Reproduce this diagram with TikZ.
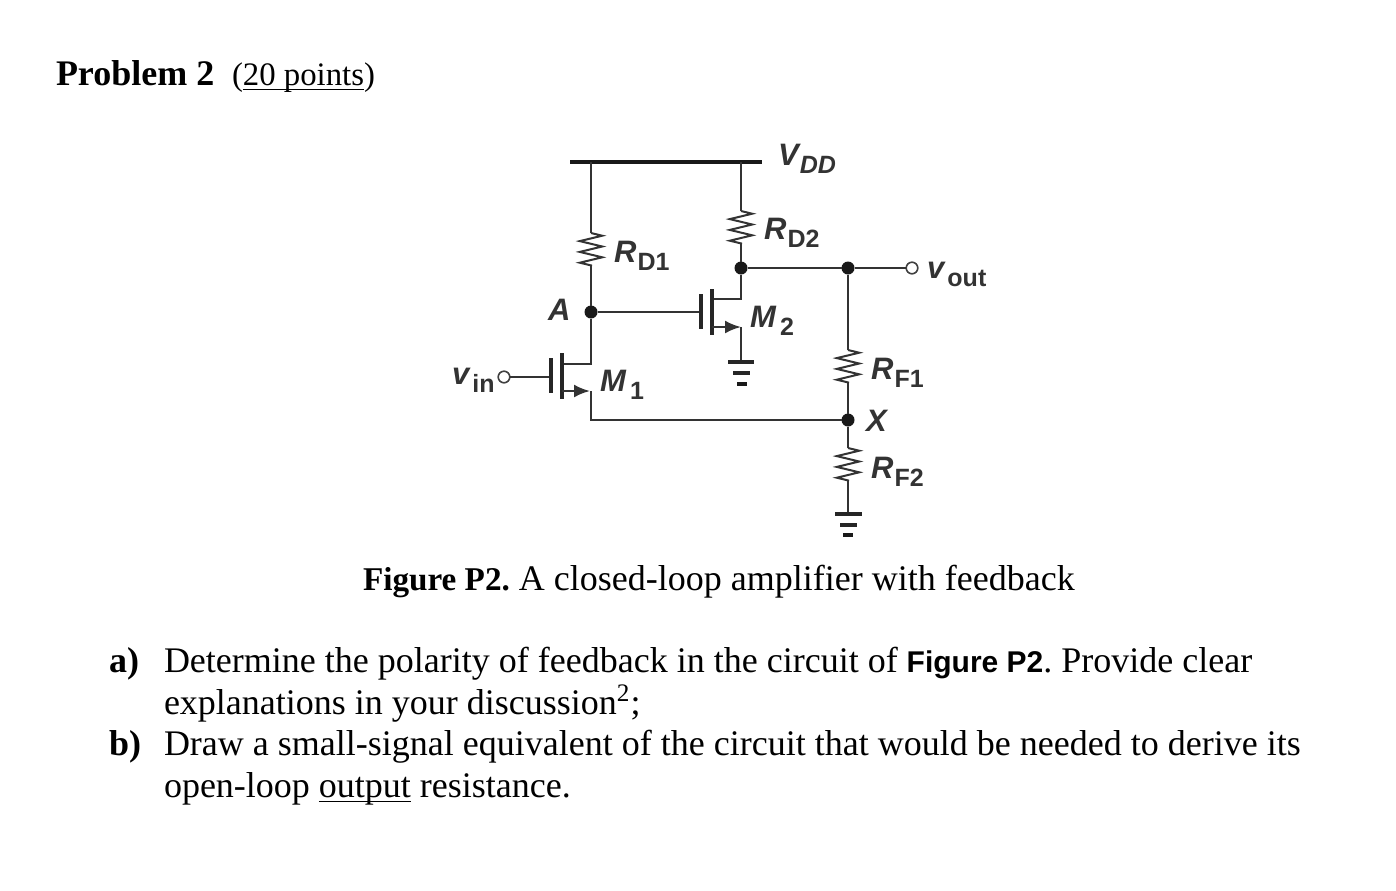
\documentclass[tikz,border=0pt]{standalone}
\usepackage{fontspec}
\setmainfont{Liberation Serif}
\setsansfont{Liberation Sans}
\usetikzlibrary{positioning, arrows.meta, decorations.pathmorphing}

\newcommand{\cirlab}[2]{{\fontsize{15.5}{15}\selectfont\itshape #1}\kern0.6pt\raisebox{-4pt}{\fontsize{12.5}{10}\selectfont #2}}
\newcommand{\lowline}[1]{\setbox0\hbox{#1}\rlap{\rule[-2.5pt]{\wd0}{0.75pt}}\box0\relax}

\begin{document}
\frenchspacing
\begin{tikzpicture}[
    x=0.5pt, y=-0.5pt,
    every node/.style={inner sep=0pt, outer sep=0pt},
    wire/.style={draw=black!80, line width=1.2pt},
    rail/.style={draw=black!90, line width=2.3pt},
    plate/.style={draw=black!85, line width=1.9pt},
    srcarrow/.style={wire, -{Latex[length=8pt, width=6.5pt]}},
    res/.style={draw=black!80, line width=1pt, decorate, decoration={zigzag, amplitude=5.6pt, segment length=5.4pt}},
    dot/.style={circle, fill=black!90, minimum size=6.5pt},
    port/.style={circle, draw=black!75, fill=white, line width=0.8pt, minimum size=5.8pt},
    cirtext/.style={font=\sffamily\bfseries, text=black!80, anchor=base west},
    heading/.style={anchor=base west, font=\fontsize{18}{21}\selectfont\bfseries},
    bodytext/.style={anchor=base west, align=left, font=\fontsize{18}{21}\selectfont}
]
\useasboundingbox (0,0) rectangle (1396,890);

% Heading
\node[heading] (title) at (56,85) {Problem 2};
\node[anchor=base west, font=\fontsize{16.4}{20}\selectfont] (points) at (232,85) {(\lowline{20 points})};

% Supply rail and junctions
\coordinate (railL) at (570,162);
\coordinate (railR) at (762,162);
\coordinate (rd1top) at (591,162);
\coordinate (rd2top) at (741,162);
\node[dot] (A) at (591,312) {};
\node[dot] (outD) at (741,268) {};
\node[dot] (outN) at (848,268) {};
\node[dot] (X) at (848,420) {};
\node[port] (vout) at (912,268) {};
\node[port] (vin) at (504,377) {};

% Resistor ends
\coordinate (rd1a) at (591,233);
\coordinate (rd1b) at (591,266);
\coordinate (rd2a) at (741,211);
\coordinate (rd2b) at (741,244);
\coordinate (rf1a) at (848,350);
\coordinate (rf1b) at (848,383);
\coordinate (rf2a) at (848,448);
\coordinate (rf2b) at (848,481);

% M1 points
\coordinate (m1gate) at (551,377);
\coordinate (m1dl) at (562,364);
\coordinate (m1dr) at (591,364);
\coordinate (m1sl) at (562,391);
\coordinate (m1sr) at (590,391);
\coordinate (m1low) at (591,420);
\coordinate (m1pa) at (551,358);
\coordinate (m1pb) at (551,393);
\coordinate (m1ca) at (562,353);
\coordinate (m1cb) at (562,399);

% M2 points
\coordinate (m2gate) at (701,312);
\coordinate (m2dl) at (712,299);
\coordinate (m2dr) at (741,299);
\coordinate (m2sl) at (712,327);
\coordinate (m2sr) at (741,327);
\coordinate (m2pa) at (701,294);
\coordinate (m2pb) at (701,329);
\coordinate (m2ca) at (712,289);
\coordinate (m2cb) at (712,335);

% Ground under M2
\coordinate (gnd2) at (741,362);
\coordinate (g2aL) at (728,362); \coordinate (g2aR) at (754,362);
\coordinate (g2bL) at (733,373); \coordinate (g2bR) at (750,373);
\coordinate (g2cL) at (737,384); \coordinate (g2cR) at (747,384);

% Ground under RF2
\coordinate (gnd3) at (848,514);
\coordinate (g3aL) at (835,514); \coordinate (g3aR) at (862,514);
\coordinate (g3bL) at (840,525); \coordinate (g3bR) at (857,525);
\coordinate (g3cL) at (843,535); \coordinate (g3cR) at (853,535);

% Wires
\draw[rail] (railL) -- (railR);
\draw[wire] (rd1top) -- (rd1a);
\draw[res] (rd1a) -- (rd1b);
\draw[wire] (rd1b) -- (A);
\draw[wire] (A) -- (m1dr) -- (m1dl);
\draw[wire] (rd2top) -- (rd2a);
\draw[res] (rd2a) -- (rd2b);
\draw[wire] (rd2b) -- (outD);
\draw[wire] (outD) -- (m2dr) -- (m2dl);
\draw[wire] (outD) -- (outN);
\draw[wire] (outN) -- (vout);
\draw[wire] (outN) -- (rf1a);
\draw[res] (rf1a) -- (rf1b);
\draw[wire] (rf1b) -- (X);
\draw[wire] (X) -- (rf2a);
\draw[res] (rf2a) -- (rf2b);
\draw[wire] (rf2b) -- (gnd3);
\draw[wire] (A) -- (m2gate);
\draw[wire] (vin) -- (m1gate);

% M1
\draw[plate] (m1pa) -- (m1pb);
\draw[plate] (m1ca) -- (m1cb);
\draw[srcarrow] (m1sl) -- (m1sr);
\draw[wire] (m1sr -| m1low) -- (m1low) -- (X);

% M2
\draw[plate] (m2pa) -- (m2pb);
\draw[plate] (m2ca) -- (m2cb);
\draw[srcarrow] (m2sl) -- (m2sr);
\draw[wire] (m2sr -| gnd2) -- (gnd2);

% Grounds
\draw[plate] (g2aL) -- (g2aR);
\draw[plate] (g2bL) -- (g2bR);
\draw[rail] (g2cL) -- (g2cR);
\draw[plate] (g3aL) -- (g3aR);
\draw[plate] (g3bL) -- (g3bR);
\draw[rail] (g3cL) -- (g3cR);

% Circuit labels
\node[cirtext] (vddlab) at (778,165) {\cirlab{V}{\itshape DD}};
\node[cirtext] (rd1lab) at (614,262) {\cirlab{R}{D1}};
\node[cirtext] (rd2lab) at (764,239) {\cirlab{R}{D2}};
\node[cirtext] (voutlab) at (927,278) {\cirlab{v}{\kern1pt out}};
\node[cirtext] (alab) at (548,320) {\cirlab{A}{}};
\node[cirtext] (m2lab) at (750,327) {\cirlab{M}{\kern1.5pt 2}};
\node[cirtext] (m1lab) at (600,391) {\cirlab{M}{\kern1.5pt 1}};
\node[cirtext] (vinlab) at (452,384) {\cirlab{v}{\kern1pt in}};
\node[cirtext] (rf1lab) at (871,379) {\cirlab{R}{F1}};
\node[cirtext] (xlab) at (866,431) {\cirlab{X}{}};
\node[cirtext] (rf2lab) at (871,478) {\cirlab{R}{F2}};

% Caption and questions
\node[bodytext] (caption) at (363,590) {{\fontsize{16.6}{21}\selectfont\bfseries Figure P2.} A closed-loop amplifier with feedback};
\node[bodytext, font=\fontsize{18}{21}\selectfont\bfseries] (qa) at (109,672) {a)};
\node[bodytext] (qatext) at (164,672) {Determine the polarity of feedback in the circuit of {\sffamily\bfseries\fontsize{15}{15}\selectfont Figure P2}. Provide clear};
\node[bodytext] (qatwo) at (164,714) {explanations in your discussion\textsuperscript{2};};
\node[bodytext, font=\fontsize{18}{21}\selectfont\bfseries] (qb) at (109,755) {b)};
\node[bodytext] (qbtext) at (164,755) {Draw a small-signal equivalent of the circuit that would be needed to derive its};
\node[bodytext] (qbtwo) at (164,797) {open-loop \lowline{output} resistance.};

\end{tikzpicture}
\end{document}
